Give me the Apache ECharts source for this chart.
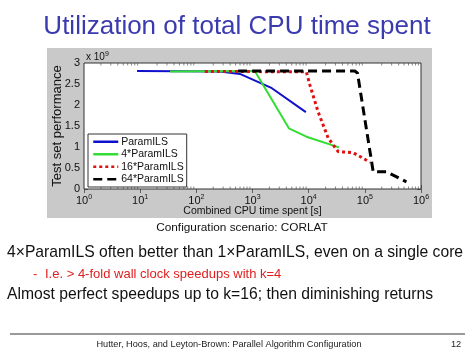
<!DOCTYPE html>
<html><head><meta charset="utf-8">
<script src="https://cdn.jsdelivr.net/npm/echarts@6/dist/echarts.min.js"></script>
<style>html,body{margin:0;padding:0;background:#fff}#c{width:474px;height:355px}</style>
</head><body><div id="c"></div>
<script>
// Data (y in units of 1e9)
const seriesNames = ['ParamILS', '4*ParamILS', '16*ParamILS', '64*ParamILS'];
const xParamILS = [8.8, 263, 597, 2214, 8913];
const yParamILS = [2.81, 2.80, 2.74, 2.40, 1.83];
const x4 = [34, 1100, 4446, 9130, 34600];
const y4 = [2.80, 2.81, 1.445, 1.245, 0.99];
const x16 = [142, 9100, 10500, 14700, 22300, 33500, 61900, 123000];
const y16 = [2.80, 2.79, 2.48, 1.84, 1.21, 0.89, 0.865, 0.64];
const x64 = [553, 66500, 74000, 141000, 243000, 550000];
const y64 = [2.81, 2.81, 2.76, 0.41, 0.41, 0.17];
const yTickLabels = ['0', '0.5', '1', '1.5', '2', '2.5', '3'];
const xDecades = [1, 10, 100, 1000, 10000, 100000, 1000000];

const FONT = 'Liberation Sans';
const zip = (xs, ys) => xs.map((x, i) => [x, ys[i]]);
const minorTicks = [];
for (let d = 0; d < xDecades.length - 1; d++) {
  for (let m = 2; m <= 9; m++) minorTicks.push([xDecades[d] * m, 0]);
}

const chart = echarts.init(document.getElementById('c'), null, {renderer: 'canvas'});
const axisCommon = {
  axisLine: {show: false},
  splitLine: {show: false},
  axisTick: {show: true, inside: true, length: 4, lineStyle: {color: '#444', width: 0.8}}
};
chart.setOption({
  backgroundColor: '#ffffff',
  animation: false,
  title: [{
    text: 'Utilization of total CPU time spent',
    left: 'center', top: 9,
    textStyle: {fontFamily: FONT, fontSize: 26, fontWeight: 'normal', color: '#3b3bb0'}
  }],
  grid: {
    left: 84, right: 53, top: 63, bottom: 166, z: 1,
    show: true, backgroundColor: '#ffffff', borderColor: '#333', borderWidth: 1
  },
  legend: {
    data: seriesNames,
    orient: 'vertical', left: 88, top: 134,
    backgroundColor: '#ffffff', borderColor: '#333', borderWidth: 1, borderRadius: 0,
    padding: [2, 3, 2, 4], itemGap: 1, itemWidth: 25, itemHeight: 10,
    itemStyle: {opacity: 0},
    lineStyle: {width: 2.5},
    textStyle: {fontFamily: FONT, fontSize: 10.5, color: '#111', lineHeight: 11.5, padding: [0, 0, 0, -2]}
  },
  xAxis: [
    Object.assign({}, axisCommon, {
      type: 'log', logBase: 10, min: 1, max: 1000000, position: 'bottom',
      name: 'Combined CPU time spent [s]', nameLocation: 'middle', nameGap: 17, nameMoveOverlap: false,
      nameTextStyle: {fontFamily: FONT, fontSize: 10.5, color: '#111'},
      axisLabel: {
        margin: 5,
        formatter: v => '{a|10}{b|' + Math.round(Math.log10(v)) + '}',
        rich: {
          a: {fontFamily: FONT, fontSize: 11, color: '#111'},
          b: {fontFamily: FONT, fontSize: 7, color: '#111', verticalAlign: 'top', padding: [0, 0, 7, 0]}
        }
      }
    }),
    Object.assign({}, axisCommon, {
      type: 'log', logBase: 10, min: 1, max: 1000000, position: 'top',
      axisLabel: {show: false}
    })
  ],
  yAxis: [
    Object.assign({}, axisCommon, {
      type: 'value', min: 0, max: 3, interval: 0.5, position: 'left',
      name: 'Test set performance', nameLocation: 'middle', nameGap: 20, nameMoveOverlap: false,
      nameTextStyle: {fontFamily: FONT, fontSize: 13, color: '#111'},
      axisLabel: {
        margin: 4, fontFamily: FONT, fontSize: 11, color: '#111',
        formatter: (v, i) => yTickLabels[i]
      }
    }),
    Object.assign({}, axisCommon, {
      type: 'value', min: 0, max: 3, interval: 0.5, position: 'right',
      axisLabel: {show: false}
    })
  ],
  graphic: [
    {type: 'rect', z: -100, silent: true, shape: {x: 47, y: 48, width: 385, height: 170}, style: {fill: '#c9c9c9'}},
    {type: 'text', z: 100, style: {x: 86, y: 57, text: '{a|x 10}{b|9}', textVerticalAlign: 'middle',
      rich: {a: {fontFamily: FONT, fontSize: 10, fill: '#111'}, b: {fontFamily: FONT, fontSize: 7, fill: '#111', verticalAlign: 'top', padding: [0, 0, 6, 0]}}}},
    {type: 'text', style: {x: 242, y: 228, text: 'Configuration scenario: CORLAT', textAlign: 'center', textVerticalAlign: 'middle', font: '11.8px "Liberation Sans"', fill: '#111'}},
    {type: 'text', style: {x: 7, y: 253, text: '4\u00d7ParamILS often better than 1\u00d7ParamILS, even on a single core', textAlign: 'left', textVerticalAlign: 'middle', font: '15.7px "Liberation Sans"', fill: '#111'}},
    {type: 'text', style: {x: 33, y: 274, text: '-', textAlign: 'left', textVerticalAlign: 'middle', font: '13px "Liberation Sans"', fill: '#e02020'}},
    {type: 'text', style: {x: 45, y: 274, text: 'I.e. > 4-fold wall clock speedups with k=4', textAlign: 'left', textVerticalAlign: 'middle', font: '13px "Liberation Sans"', fill: '#e02020'}},
    {type: 'text', style: {x: 7, y: 295, text: 'Almost perfect speedups up to k=16; then diminishing returns', textAlign: 'left', textVerticalAlign: 'middle', font: '15.7px "Liberation Sans"', fill: '#111'}},
    {type: 'line', shape: {x1: 10, y1: 334, x2: 465, y2: 334}, style: {stroke: '#9a9a9a', lineWidth: 2}},
    {type: 'text', style: {x: 229, y: 344, text: 'Hutter, Hoos, and Leyton-Brown: Parallel Algorithm Configuration', textAlign: 'center', textVerticalAlign: 'middle', font: '9.2px "Liberation Sans"', fill: '#222'}},
    {type: 'text', style: {x: 456, y: 344, text: '12', textAlign: 'center', textVerticalAlign: 'middle', font: '9.2px "Liberation Sans"', fill: '#222'}}
  ],
  series: [
    {name: seriesNames[0], type: 'line', data: zip(xParamILS, yParamILS), symbol: 'none', z: 3,
      lineStyle: {color: '#1010cc', width: 2}, itemStyle: {color: '#1010cc'}},
    {name: seriesNames[1], type: 'line', data: zip(x4, y4), symbol: 'none', z: 4,
      lineStyle: {color: '#33dd33', width: 2}, itemStyle: {color: '#33dd33'}},
    {name: seriesNames[2], type: 'line', data: zip(x16, y16), symbol: 'none', z: 5,
      lineStyle: {color: '#e01010', width: 3, type: [3, 3]}, itemStyle: {color: '#e01010'}},
    {name: seriesNames[3], type: 'line', data: zip(x64, y64), symbol: 'none', z: 6,
      lineStyle: {color: '#000000', width: 3, type: [9, 5]}, itemStyle: {color: '#000000'}},
    {type: 'custom', name: 'minorTicks', data: minorTicks, silent: true, z: 2,
      renderItem: (params, api) => {
        const x = api.coord([api.value(0), 0])[0];
        const cs = params.coordSys;
        return {type: 'group', children: [
          {type: 'line', shape: {x1: x, y1: cs.y + cs.height, x2: x, y2: cs.y + cs.height - 2.5}, style: {stroke: '#555', lineWidth: 0.7}},
          {type: 'line', shape: {x1: x, y1: cs.y, x2: x, y2: cs.y + 2.5}, style: {stroke: '#555', lineWidth: 0.7}}
        ]};
      }}
  ]
});
</script></body></html>
